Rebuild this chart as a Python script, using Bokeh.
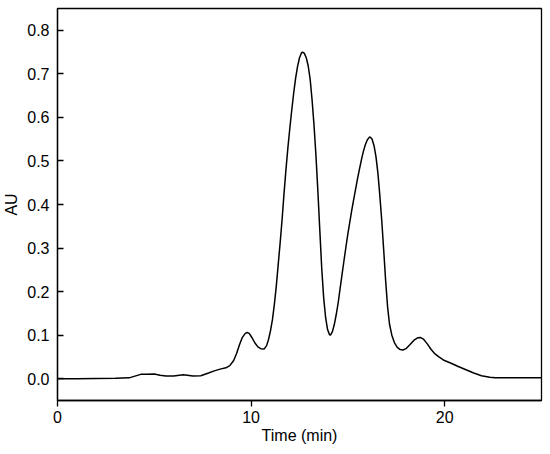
from bokeh.plotting import figure
from bokeh.models import FixedTicker, NumeralTickFormatter, Range1d
from bokeh.embed import file_html
from bokeh.resources import INLINE

time_min = [0, 1.0, 2.0, 3.0, 3.7, 4.0, 4.3, 4.6, 5.0, 5.3, 5.6, 6.0, 6.5, 7.0, 7.4,
            7.8, 8.1, 8.4, 8.7, 8.9, 9.1, 9.25, 9.4, 9.55, 9.7, 9.8, 9.9, 10.05, 10.2,
            10.35, 10.5, 10.67, 10.8, 10.9, 11.0, 11.1, 11.2, 11.3, 11.4, 11.5, 11.6,
            11.7, 11.8, 11.9, 12.0, 12.1, 12.2, 12.3, 12.4, 12.5, 12.6, 12.66, 12.75,
            12.85, 12.95, 13.05, 13.15, 13.25, 13.35, 13.45, 13.55, 13.65, 13.75, 13.85,
            13.95, 14.05, 14.1, 14.2, 14.3, 14.4, 14.5, 14.6, 14.7, 14.8, 14.9, 15.0,
            15.1, 15.2, 15.3, 15.4, 15.5, 15.6, 15.7, 15.8, 15.9, 16.0, 16.1, 16.15,
            16.25, 16.35, 16.45, 16.55, 16.65, 16.75, 16.85, 16.95, 17.05, 17.15, 17.27,
            17.4, 17.55, 17.7, 17.84, 18.0, 18.2, 18.4, 18.6, 18.76, 18.9, 19.1, 19.3,
            19.5, 19.7, 19.93, 20.3, 20.7, 21.13, 21.5, 21.9, 22.33, 22.6, 23.5, 25.0]
au = [0.0, 0.0, 0.0005, 0.001, 0.002, 0.006, 0.010, 0.0105, 0.011, 0.008, 0.006, 0.0065,
      0.009, 0.006, 0.007, 0.013, 0.018, 0.022, 0.025, 0.030, 0.042, 0.058, 0.078, 0.095,
      0.104, 0.106, 0.104, 0.094, 0.082, 0.073, 0.069, 0.068, 0.076, 0.090, 0.110, 0.135,
      0.170, 0.212, 0.262, 0.312, 0.365, 0.425, 0.480, 0.530, 0.575, 0.617, 0.656, 0.690,
      0.717, 0.737, 0.748, 0.750, 0.747, 0.737, 0.718, 0.688, 0.640, 0.582, 0.512, 0.430,
      0.340, 0.252, 0.185, 0.140, 0.113, 0.101, 0.100, 0.108, 0.125, 0.148, 0.175, 0.208,
      0.240, 0.272, 0.303, 0.333, 0.360, 0.387, 0.412, 0.436, 0.460, 0.482, 0.503, 0.522,
      0.537, 0.548, 0.554, 0.555, 0.550, 0.535, 0.510, 0.472, 0.420, 0.362, 0.295, 0.225,
      0.165, 0.125, 0.100, 0.083, 0.072, 0.067, 0.066, 0.069, 0.078, 0.088, 0.094, 0.0945,
      0.091, 0.080, 0.067, 0.057, 0.050, 0.043, 0.036, 0.028, 0.020, 0.013, 0.007, 0.0035,
      0.002, 0.002, 0.002]

x_ticks = [0, 10, 20]
y_ticks = [0.0, 0.1, 0.2, 0.3, 0.4, 0.5, 0.6, 0.7, 0.8]

FONT = "Liberation Sans"

p = figure(width=544, height=448, output_backend="svg", toolbar_location=None,
           x_range=Range1d(0, 25), y_range=Range1d(-0.05, 0.85),
           min_border_left=56, min_border_right=3, min_border_top=8, min_border_bottom=48)
p.line(time_min, au, line_color="black", line_width=1.5)

p.xgrid.visible = False
p.ygrid.visible = False
p.outline_line_color = "black"
p.outline_line_width = 1.3

p.xaxis.ticker = FixedTicker(ticks=x_ticks)
p.yaxis.ticker = FixedTicker(ticks=y_ticks)
p.yaxis.formatter = NumeralTickFormatter(format="0.0")
p.xaxis.axis_label = "Time (min)"
p.yaxis.axis_label = "AU"

for ax in (p.xaxis[0], p.yaxis[0]):
    ax.axis_line_color = "black"
    ax.axis_line_width = 1.3
    ax.major_tick_line_color = "black"
    ax.major_tick_line_width = 1.3
    ax.minor_tick_line_color = None
    ax.major_label_text_font = FONT
    ax.major_label_text_font_size = "16px"
    ax.major_label_text_color = "black"
    ax.axis_label_text_font = FONT
    ax.axis_label_text_font_size = "16px"
    ax.axis_label_text_font_style = "normal"
    ax.axis_label_text_color = "black"

p.xaxis.major_tick_out = 6
p.xaxis.major_tick_in = 0
p.xaxis.major_label_standoff = 4
p.xaxis.axis_label_standoff = 1
p.yaxis.major_tick_out = 0
p.yaxis.major_tick_in = 6
p.yaxis.major_label_standoff = 8
p.yaxis.axis_label_standoff = 4

open("out.html", "w").write(file_html(p, INLINE))
